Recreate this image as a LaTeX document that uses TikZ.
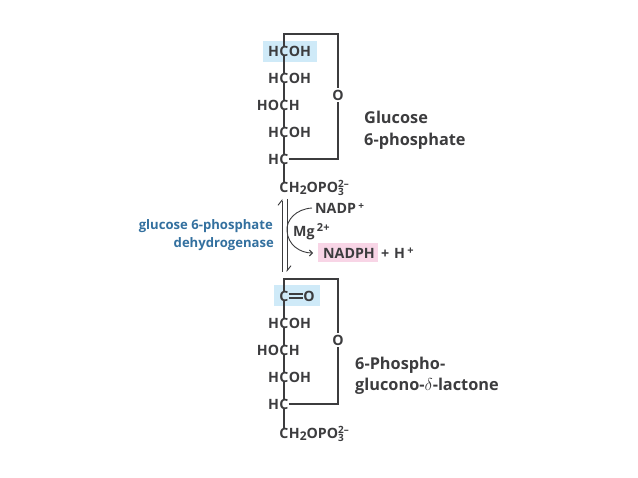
\documentclass[tikz,border=0pt]{standalone}
\usepackage{fontspec}
\setmainfont{Open Sans}
\usetikzlibrary{arrows.meta,positioning}
\definecolor{bondgray}{HTML}{3C3C3E}
\definecolor{enzblue}{HTML}{33709F}
\definecolor{hiblue}{HTML}{CFEAF8}
\definecolor{hipink}{HTML}{F8D5E6}
\newcommand{\phosphate}{H\raisebox{-2.5pt}{\fontsize{12}{12}\selectfont 2}OPO\rlap{\raisebox{-3.5pt}{\fontsize{10}{10}\selectfont 3}}\raisebox{5pt}{\fontsize{10}{10}\selectfont 2--}}
\tikzset{
	atom/.style={inner sep=0pt,text=bondgray,font=\fontsize{14.2}{16}\selectfont\bfseries},
	ringatom/.style={atom,inner sep=2pt},
	caption/.style={inner sep=0pt,anchor=base west,text=bondgray,font=\fontsize{16.3}{19}\selectfont\bfseries},
	enzyme/.style={inner sep=0pt,anchor=base east,text=enzblue,font=\fontsize{13.1}{15}\selectfont\bfseries},
	bond/.style={line width=1.2pt,color=bondgray},
	thinbond/.style={line width=0.9pt,color=bondgray}
}
\begin{document}
\begin{tikzpicture}[x=1pt,y=-1pt]
	\useasboundingbox (0,0) rectangle (638,478);
	%%%%% HIGHLIGHTS %%%%%
	\fill[hiblue] (263,41) rectangle (317,62);
	\fill[hiblue] (274,285) rectangle (320,306);
	\fill[hipink] (318,243) rectangle (378,262);

	%%%%% GLUCOSE 6-PHOSPHATE %%%%%
	\node[atom] (gc1) at (284,51) {C};
	\node[atom,base left=0pt of gc1] (gh1) {H};
	\node[atom,base right=0pt of gc1] (goh1) {OH};
	\node[atom] (gc2) at (284,78) {C};
	\node[atom,base left=0pt of gc2] (gh2) {H};
	\node[atom,base right=0pt of gc2] (goh2) {OH};
	\node[atom] (gc3) at (284,105) {C};
	\node[atom,base left=0pt of gc3] (gho3) {HO};
	\node[atom,base right=0pt of gc3] (gh3) {H};
	\node[atom] (gc4) at (284,132) {C};
	\node[atom,base left=0pt of gc4] (gh4) {H};
	\node[atom,base right=0pt of gc4] (goh4) {OH};
	\node[atom] (gc5) at (284,159) {C};
	\node[atom,base left=0pt of gc5] (gh5) {H};
	\node[atom] (gc6) at (284,187) {C};
	\node[atom,base right=0pt of gc6] (gp6) {\phosphate};
	\node[ringatom] (go) at (338,95) {O};
	\coordinate (gtop) at (284,34);

	\draw[bond] (gc1) -- (gtop) -| (go);
	\draw[bond] (gc1) -- (gc2);
	\draw[bond] (gc2) -- (gc3);
	\draw[bond] (gc3) -- (gc4);
	\draw[bond] (gc4) -- (gc5);
	\draw[bond] (gc5) -- (gc6);
	\draw[bond] (gc5) -- (gc5 -| go) -- (go);

	\node[caption] (gname1) at (364,124) {Glucose};
	\node[caption] (gname2) at (364,146) {6-phosphate};

	%%%%% REACTION %%%%%
	\coordinate (upS) at (282,272);
	\coordinate (upE) at (282,199);
	\coordinate (downS) at (287,199);
	\coordinate (downE) at (287,272);
	\draw[thinbond,-{Straight Barb[harpoon,length=5pt,width=8pt]}] (upS) -- (upE);
	\draw[thinbond,-{Straight Barb[harpoon,length=5pt,width=8pt]}] (downS) -- (downE);

	\node[enzyme] (enz1) at (273,230) {glucose 6-phosphate};
	\node[enzyme] (enz2) at (274,248) {dehydrogenase};

	\node[atom,anchor=base west] (nadp) at (315,214) {NADP\,\raisebox{4pt}{\fontsize{10}{10}\selectfont +}};
	\node[atom,anchor=base west] (mg) at (293,237) {Mg\,\raisebox{5pt}{\fontsize{11}{11}\selectfont 2+}};
	\node[atom,anchor=base west] (nadph) at (323,259) {NADPH};
	\node[atom,anchor=base west] (proton) at (381,259) {+\,\,H\,\raisebox{4.5pt}{\fontsize{11}{11}\selectfont +}};
	\coordinate (curveS) at (312,208);
	\coordinate (curveE) at (313,253);
	\draw[thinbond,-{Straight Barb[length=3pt,width=6pt]}] (curveS) .. controls (296,209) and (286,220) .. (287,231) .. controls (288,245) and (300,253) .. (curveE);

	%%%%% LACTONE %%%%%
	\node[atom] (lc1) at (284,296) {C};
	\node[atom] (lo1) at (309,296) {O};
	\node[atom] (lc2) at (284,323) {C};
	\node[atom,base left=0pt of lc2] (lh2) {H};
	\node[atom,base right=0pt of lc2] (loh2) {OH};
	\node[atom] (lc3) at (284,350) {C};
	\node[atom,base left=0pt of lc3] (lho3) {HO};
	\node[atom,base right=0pt of lc3] (lh3) {H};
	\node[atom] (lc4) at (284,377) {C};
	\node[atom,base left=0pt of lc4] (lh4) {H};
	\node[atom,base right=0pt of lc4] (loh4) {OH};
	\node[atom] (lc5) at (284,404) {C};
	\node[atom,base left=0pt of lc5] (lh5) {H};
	\node[atom] (lc6) at (284,433) {C};
	\node[atom,base right=0pt of lc6] (lp6) {\phosphate};
	\node[ringatom] (lo) at (338,340) {O};
	\coordinate (ltop) at (284,279);

	\draw[bond] (lc1) -- (ltop) -| (lo);
	\draw[bond] (lc1) -- (lc2);
	\draw[bond] (lc2) -- (lc3);
	\draw[bond] (lc3) -- (lc4);
	\draw[bond] (lc4) -- (lc5);
	\draw[bond] (lc5) -- (lc6);
	\draw[bond] (lc5) -- (lc5 -| lo) -- (lo);
	\draw[bond,transform canvas={yshift=2pt}] (lc1) -- (lo1);
	\draw[bond,transform canvas={yshift=-2pt}] (lc1) -- (lo1);

	\node[caption] (lname1) at (355,370) {6-Phospho-};
	\node[caption] (lname2) at (355,391) {glucono-$\delta$-lactone};
\end{tikzpicture}
\end{document}
